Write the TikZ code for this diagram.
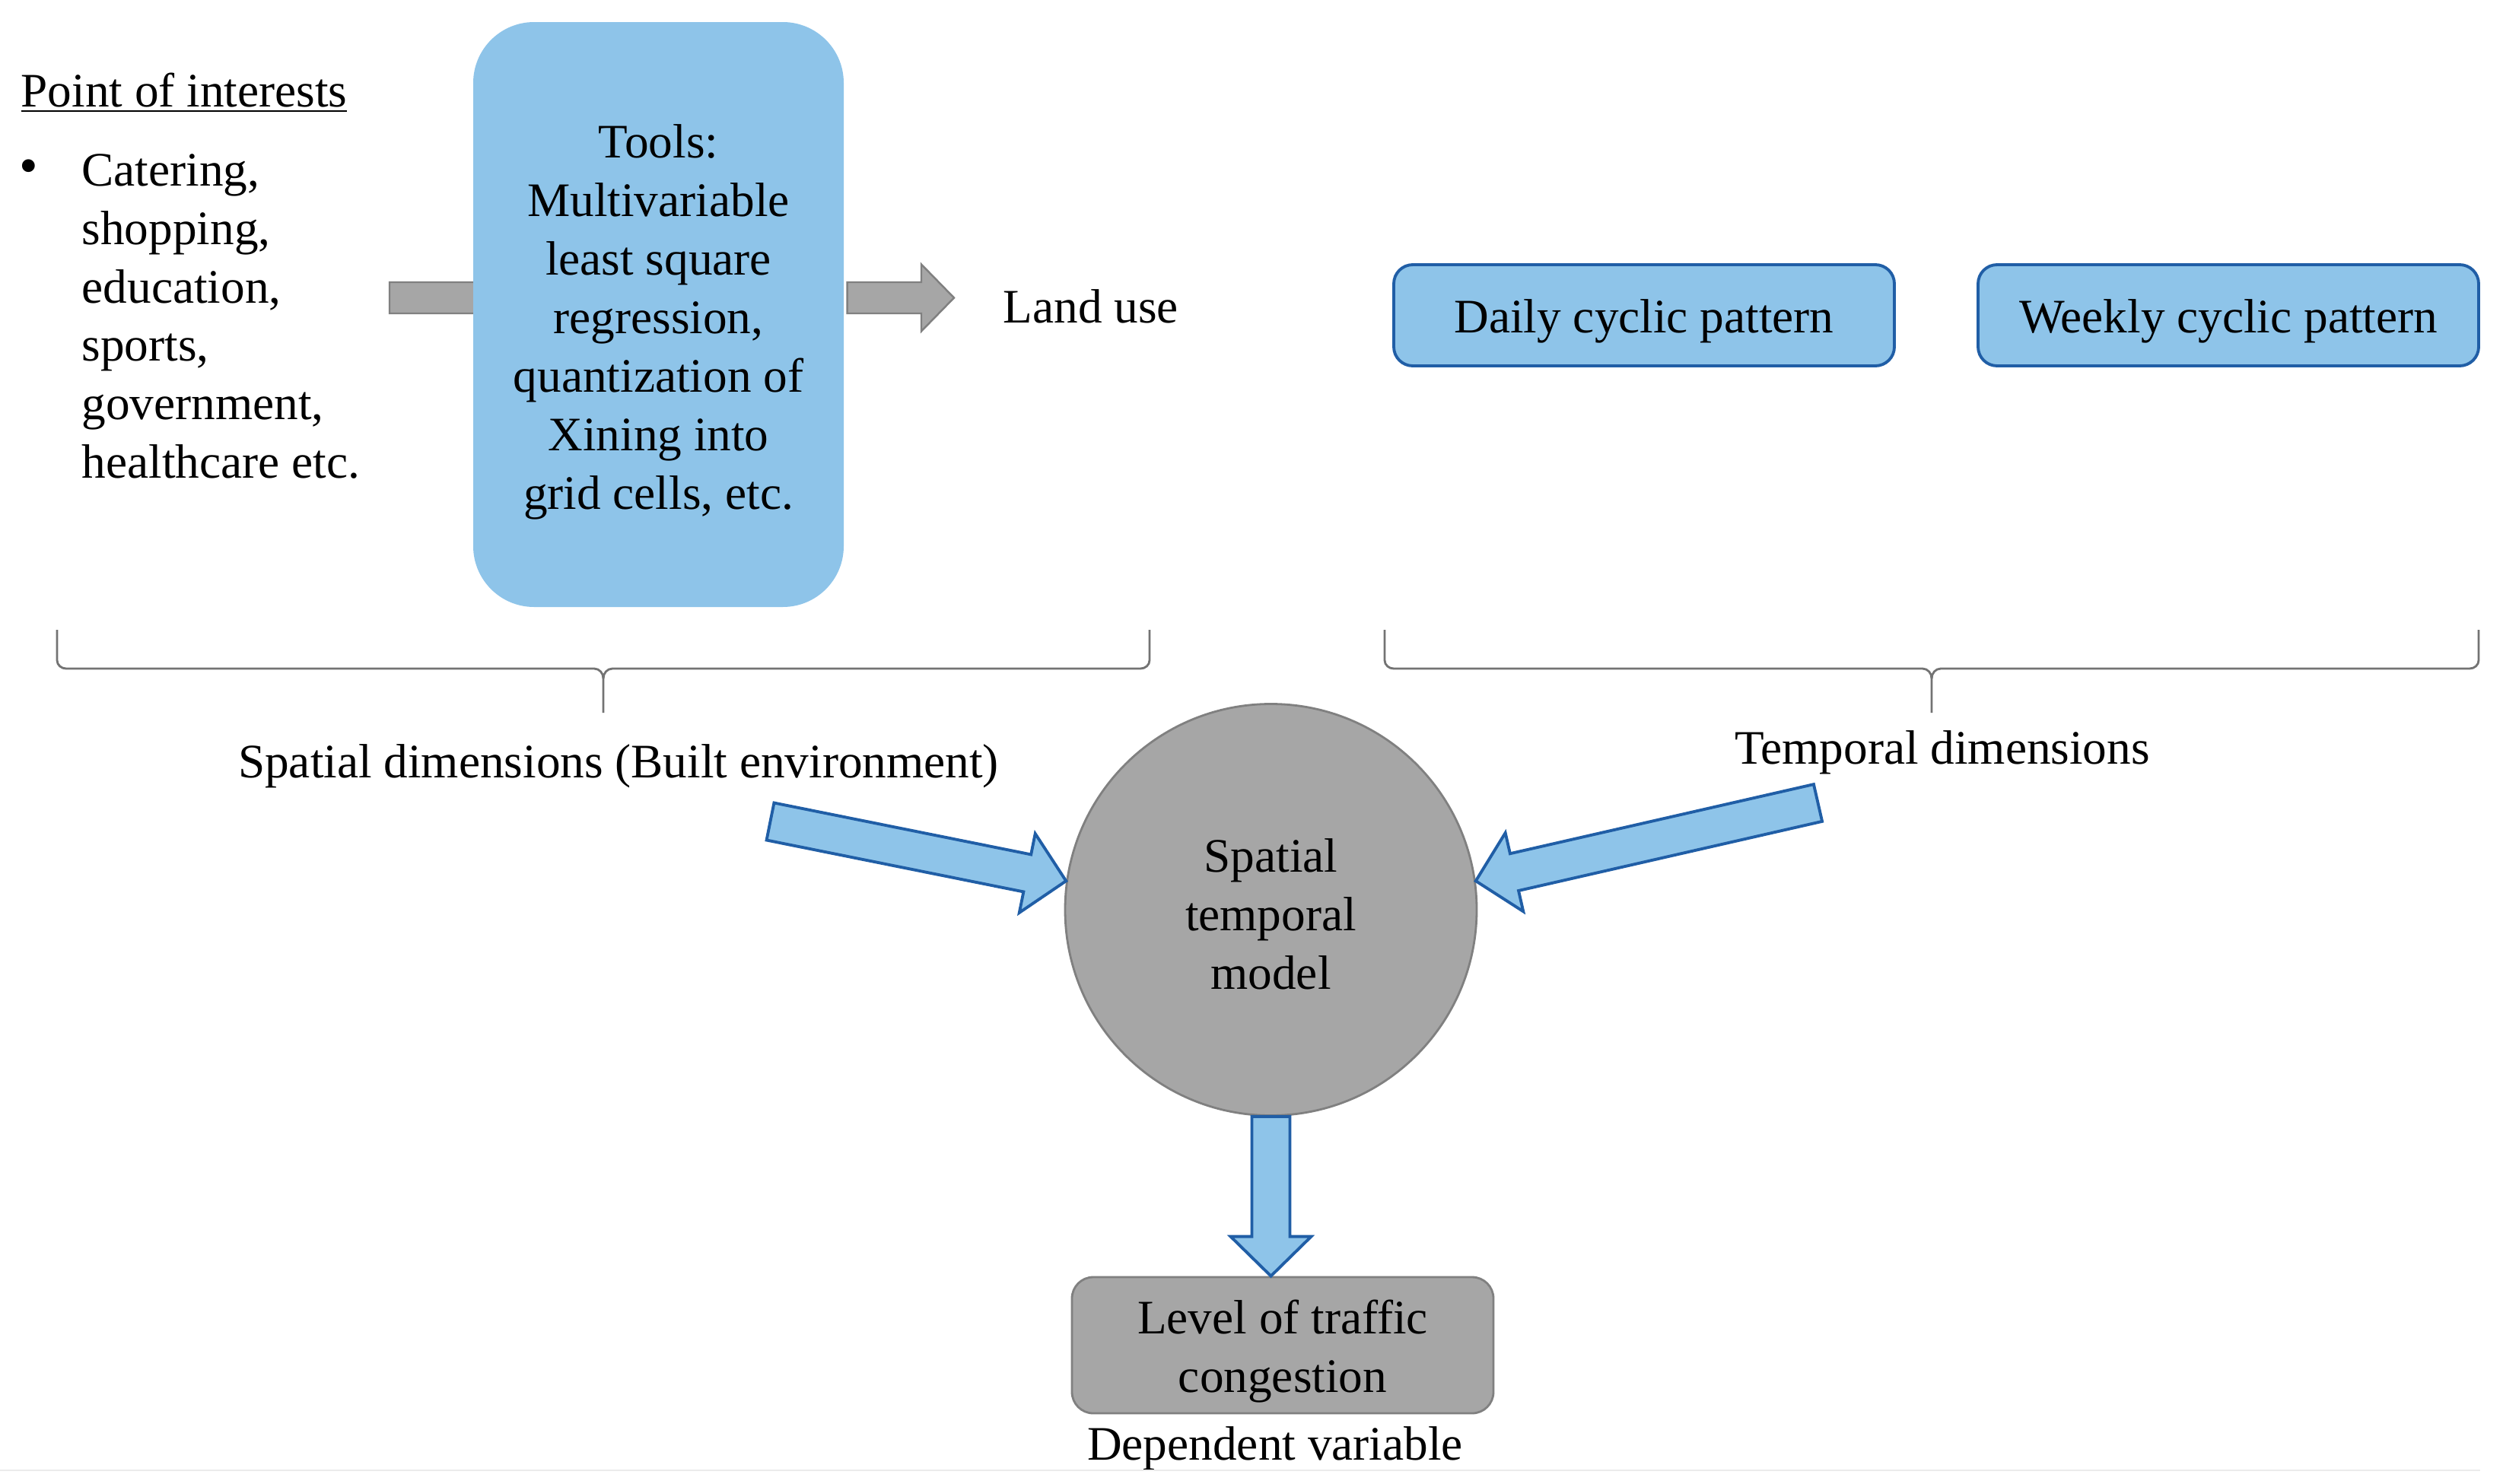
\documentclass[tikz,border=0pt]{standalone}
\usepackage{fontspec}
\setmainfont{Liberation Serif}
\usepackage{xcolor}
\usetikzlibrary{calc, positioning, backgrounds}

\definecolor{bleuclair}{RGB}{142,196,233}
\definecolor{bleufonce}{RGB}{32,94,166}
\definecolor{grismoyen}{RGB}{166,166,166}
\definecolor{grisbord}{RGB}{128,128,128}

% grosse fleche : style, depart, pointe, demi-largeur, demi-tete, longueur tete
\newcommand{\fleche}[6]{%
  \coordinate (fb) at ($(#3)!#6!(#2)$);
  \draw[#1] ($(#2)!#4!90:(#3)$) -- ($(fb)!#4!90:(#3)$) -- ($(fb)!#5!90:(#3)$)
    -- (#3) -- ($(fb)!#5!-90:(#3)$) -- ($(fb)!#4!-90:(#3)$) -- ($(#2)!#4!-90:(#3)$) -- cycle;}

% accolade : x gauche, x droite, nom de la pointe
\newcommand{\accolade}[3]{%
  \coordinate (#3) at ({(#1+#2)/2},-9.37);
  \draw[trait] (#1,-8.28) -- (#1,-8.68) to[out=-90,in=180] (#1+0.12,-8.79)
    -- ($(#3)+(-0.12,0.58)$) to[out=0,in=90] ($(#3)+(0,0.45)$) -- (#3);
  \draw[trait] (#2,-8.28) -- (#2,-8.68) to[out=-90,in=0] (#2-0.12,-8.79)
    -- ($(#3)+(0.12,0.58)$) to[out=180,in=90] ($(#3)+(0,0.45)$);}

% hauteur de la premiere ligne (descend le texte dans les boites)
\newcommand{\haut}[1]{\rule{0pt}{#1}}

\begin{document}
\begin{tikzpicture}[
		every node/.style={font=\fontsize{18}{21.9}\selectfont, inner sep=0pt},
		outils/.style={rounded corners=0.8cm, fill=bleuclair, minimum width=4.87cm, minimum height=7.69cm, align=center},
		boite/.style={rounded corners=0.25cm, draw=bleufonce, fill=bleuclair, line width=1.1pt, minimum width=6.58cm, minimum height=1.33cm},
		modele/.style={circle, fill=grismoyen, draw=grisbord, line width=0.8pt, minimum size=5.41cm, align=center},
		niveau/.style={rounded corners=0.28cm, fill=grismoyen, draw=grisbord, line width=0.8pt, minimum width=5.54cm, minimum height=1.79cm, align=center},
		bleue/.style={fill=bleuclair, draw=bleufonce, line width=1.1pt, line join=miter},
		grise/.style={fill=grismoyen, draw=grisbord, line width=0.7pt, line join=miter},
		trait/.style={draw=black!55, line width=0.8pt}
		]
		\useasboundingbox (0,0) rectangle (32.90,-19.51);
		
		% Points d'interet
		\node[anchor=west] (poi) at (0.27,-1.22) {\underline{Point of interests}};
		\node[font=\fontsize{20}{22}\selectfont] (puce) at (0.38,-2.26) {\textbullet};
		\node[anchor=west, align=left] (liste) at (1.07,-4.16) {Catering,\\shopping,\\education,\\sports,\\government,\\healthcare etc.};
		
		% Outils et occupation du sol
		\node[outils] (tools) at (8.655,-4.135) {\haut{18.3pt}Tools:\\Multivariable\\least square\\regression,\\quantization of\\Xining into\\grid cells, etc.};
		\node[anchor=west] (landuse) at (13.18,-4.03) {Land use};
		
		% Motifs temporels
		\node[boite] (daily) at (21.61,-4.145) {\haut{17pt}Daily cyclic pattern};
		\node[boite] (weekly) at (29.29,-4.145) {\haut{17pt}Weekly cyclic pattern};
		
		% Accolades et dimensions
		\accolade{0.75}{15.11}{acs}
		\accolade{18.20}{32.58}{act}
		\node (spatial) at (8.13,-10.07) {Spatial dimensions (Built environment)};
		\node (temporal) at (25.53,-9.89) {Temporal dimensions};
		
		% Modele et variable dependante
		\node[modele] (model) at (16.705,-11.96) {\haut{16pt}Spatial\\temporal\\model};
		\node[niveau] (level) at (16.86,-17.685) {\haut{17pt}Level of traffic\\congestion};
		\node (dependent) at (16.76,-19.04) {Dependent variable};
		
		% Les fleches grises
		\coordinate (gtail) at (5.12,-3.915);
		\coordinate (gin) at ($(tools.west |- gtail)+(0.45,0)$);
		\coordinate (gout) at ($(tools.east |- gtail)+(0.04,0)$);
		\coordinate (gtip) at ($(landuse.west |- gtail)+(-0.64,0)$);
		\begin{scope}[on background layer]
			\fleche{grise}{gtail}{gin}{0.205cm}{0.44cm}{0.43cm}
		\end{scope}
		\fleche{grise}{gout}{gtip}{0.205cm}{0.44cm}{0.43cm}
		
		% Les fleches bleues
		\coordinate (sdtail) at (10.125,-10.80);
		\coordinate (tdtail) at (23.895,-10.555);
		\coordinate (dtip) at (model.south |- level.north);
		\fleche{bleue}{sdtail}{model.172}{0.25cm}{0.53cm}{0.52cm}
		\fleche{bleue}{tdtail}{model.8}{0.25cm}{0.53cm}{0.52cm}
		\fleche{bleue}{model.south}{dtip}{0.25cm}{0.53cm}{0.52cm}
		
		% Trait du bas
		\draw[black!8, line width=0.6pt] (0,-19.33) -- (32.60,-19.33);
	\end{tikzpicture}
\end{document}
